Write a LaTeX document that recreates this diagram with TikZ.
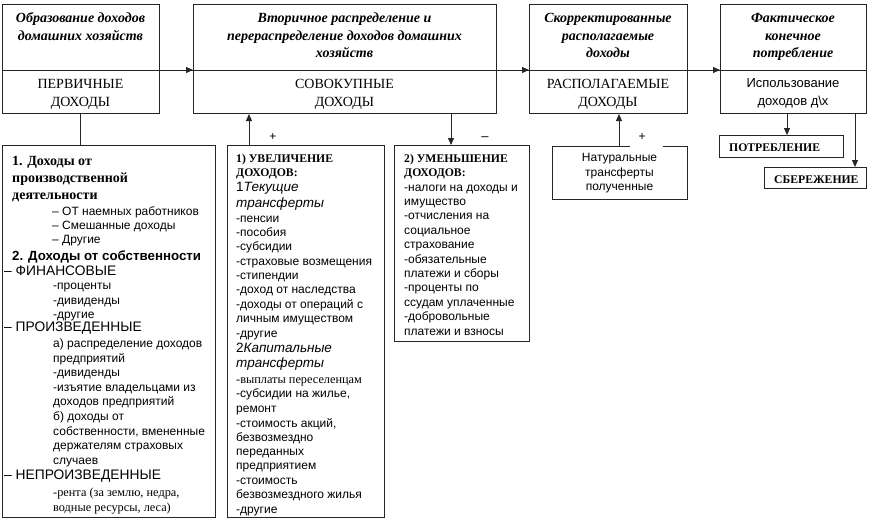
\documentclass[tikz,border=0pt]{standalone}
\usepackage{fontspec}
\setmainfont{Liberation Serif}
\setsansfont{Liberation Sans}
\usetikzlibrary{arrows.meta}
\newcommand\fsz[1]{\fontsize{#1}{#1}\selectfont}
\begin{document}
\begin{tikzpicture}[x=1pt,y=-1pt,
  box/.style={draw=black!85, line width=1pt, anchor=north west, inner sep=0pt},
  ln/.style={draw=black!85, line width=1pt},
  arr/.style={ln, -{Triangle[length=7pt,width=6pt]}},
  hd/.style={font=\fsz{14}\bfseries\itshape, anchor=base, inner sep=0pt},
  lo/.style={font=\fsz{14}, anchor=base, inner sep=0pt},
  lofour/.style={font=\sffamily\fsz{13}, anchor=base, inner sep=0pt},
  sbold/.style={font=\fsz{14}\bfseries, anchor=base west, inner sep=0pt},
  item/.style={font=\sffamily\fsz{12}, anchor=base west, inner sep=0pt},
  itemsm/.style={font=\sffamily\fsz{12}, anchor=base west, inner sep=0pt},
  capsans/.style={font=\sffamily\fsz{13.8}, anchor=base west, inner sep=0pt},
  boldsans/.style={font=\sffamily\bfseries\fsz{13.3}, anchor=base west, inner sep=0pt},
  itsans/.style={font=\sffamily\fsz{13.5}, anchor=base west, inner sep=0pt},
  serifitem/.style={font=\fsz{12.3}, anchor=base west, inner sep=0pt},
  boldcaps/.style={font=\fsz{11.7}\bfseries, anchor=base west, inner sep=0pt},
  centr/.style={font=\sffamily\fsz{12}, anchor=base, inner sep=0pt}
]
\useasboundingbox (0,0) rectangle (876,522);
% top boxes
\node[box, minimum width=157pt, minimum height=109pt] (b1) at (2,4) {};
\node[box, minimum width=303pt, minimum height=109pt] (b2) at (193,4) {};
\node[box, minimum width=158pt, minimum height=109pt] (b3) at (529,4) {};
\node[box, minimum width=146pt, minimum height=109pt] (b4) at (720,4) {};
% lower boxes
\node[box, minimum width=213pt, minimum height=372pt] (lbox) at (2,145) {};
\node[box, minimum width=157pt, minimum height=372pt] (mbox) at (227,145) {};
\node[box, minimum width=135pt, minimum height=196pt] (rbox) at (394,145) {};
\node[box, minimum width=135pt, minimum height=53pt] (nbox) at (552,146) {};
\node[box, minimum width=124pt, minimum height=22pt] (pbox) at (719,135) {};
\node[box, minimum width=102pt, minimum height=21pt] (sbox) at (764,167) {};

% divider line with arrows
\coordinate (dv) at (0,70);
\draw[ln] (b1.west |- dv) -- (b4.east |- dv);
\draw[arr] (b1.east |- dv) -- (b2.west |- dv);
\draw[arr] (b2.east |- dv) -- (b3.west |- dv);
\draw[arr] (b3.east |- dv) -- (b4.west |- dv);

% connectors
\path ([xshift=78pt]lbox.north west) coordinate (c1);
\draw[ln] (c1 |- b1.south) -- (c1);
\path ([xshift=22pt]mbox.north west) coordinate (c2);
\draw[arr] (c2) -- (c2 |- b2.south);
\path ([xshift=57pt]rbox.north west) coordinate (c3);
\draw[arr] (c3 |- b2.south) -- (c3);
\path ([xshift=67pt]nbox.north west) coordinate (c4);
\draw[arr] (c4) -- (c4 |- b3.south);
\path ([xshift=68pt]pbox.north west) coordinate (c5);
\draw[arr] (c5 |- b4.south) -- (c5);
\path ([xshift=91pt]sbox.north west) coordinate (c6);
\draw[arr] (c6 |- b4.south) -- (c6);

% signs
\node[font=\sffamily\fsz{12}, inner sep=0pt] (plusM) at (273,137) {+};
\node[font=\sffamily\fsz{13}, inner sep=0pt] (minusR) at (485,139) {–};
\node[font=\sffamily\fsz{12}, inner sep=0pt, fill=white, minimum width=33pt, minimum height=20pt] (plusN) at (646.5,137) {+\hspace*{9pt}};

% headers
\foreach \yy/\txt [count=\i] in {23/Образование доходов, 40/домашних хозяйств}
  \node[hd] (ha\i) at (80.5,\yy) {\txt};
\foreach \yy/\txt [count=\i] in {23/Вторичное распределение и, 40/перераспределение доходов домашних, 57/хозяйств}
  \node[hd] (hb\i) at (344.5,\yy) {\txt};
\foreach \yy/\txt [count=\i] in {23/Скорректированные, 40/располагаемые, 57/доходы}
  \node[hd] (hc\i) at (608,\yy) {\txt};
\foreach \yy/\txt [count=\i] in {23/Фактическое, 40/конечное, 57/потребление}
  \node[hd] (hd\i) at (793,\yy) {\txt};

% lower labels of top boxes
\node[lo] (la1) at (80.5,88) {ПЕРВИЧНЫЕ};
\node[lo] (la2) at (80.5,106) {ДОХОДЫ};
\node[lo] (lb1) at (344.5,88) {СОВОКУПНЫЕ};
\node[lo] (lb2) at (344.5,106) {ДОХОДЫ};
\node[lo] (lc1) at (608,88) {РАСПОЛАГАЕМЫЕ};
\node[lo] (lc2) at (608,106) {ДОХОДЫ};
\node[lofour] (ld1) at (793,87) {Использование};
\node[lofour] (ld2) at (793,105) {доходов д\textbackslash х};

% left box
\foreach \yy/\txt [count=\i] in {165/1. Доходы от, 182/производственной, 199/деятельности}
  \node[sbold] (pa\i) at (12,\yy) {\txt};
\foreach \yy/\txt [count=\i] in {215/– ОТ наемных работников, 229/– Смешанные доходы, 243/– Другие}
  \node[item] (pb\i) at (52,\yy) {\txt};
\node[boldsans] (pc1) at (12,260) {2. Доходы от собственности};
\node[capsans] (pd1) at (4,275) {– ФИНАНСОВЫЕ};
\foreach \yy/\txt [count=\i] in {289/-проценты, 304/-дивиденды, 318/-другие}
  \node[itemsm] (pe\i) at (53,\yy) {\txt};
\node[capsans] (pf1) at (4,331) {– ПРОИЗВЕДЕННЫЕ};
\foreach \yy/\txt [count=\i] in {347/а) распределение доходов, 362/предприятий, 376/-дивиденды, 391/-изъятие владельцами из, 405/доходов предприятий, 420/б) доходы от, 435/{собственности, вмененные}, 449/держателям страховых, 464/случаев}
  \node[item] (pg\i) at (53,\yy) {\txt};
\node[capsans] (ph1) at (4,479) {– НЕПРОИЗВЕДЕННЫЕ};
\foreach \yy/\txt [count=\i] in {496/{-рента (за землю, недра,}, 511/{водные ресурсы, леса)}}
  \node[serifitem] (pi\i) at (53,\yy) {\txt};

% middle box
\foreach \yy/\txt [count=\i] in {162.5/1) УВЕЛИЧЕНИЕ, 176.5/ДОХОДОВ:}
  \node[boldcaps] (ma\i) at (236,\yy) {\txt};
\node[itsans] (mb1) at (236,191) {1\textit{Текущие}};
\node[itsans] (mb2) at (236,207) {\textit{трансферты}};
\foreach \yy/\txt [count=\i] in {222/-пенсии, 236/-пособия, 250/-субсидии, 265/-страховые возмещения, 279/-стипендии, 293/-доход от наследства, 308/-доходы от операций с, 322/личным имуществом, 337/-другие}
  \node[item] (mc\i) at (236,\yy) {\txt};
\node[itsans] (md1) at (236,352) {2\textit{Капитальные}};
\node[itsans] (md2) at (236,367) {\textit{трансферты}};
\node[serifitem] (me1) at (236,383) {-выплаты переселенцам};
\foreach \yy/\txt [count=\i] in {397/{-субсидии на жилье,}, 412/ремонт, 427/{-стоимость акций,}, 441/безвозмездно, 455/переданных, 469/предприятием, 484/-стоимость, 498/безвозмездного жилья, 513/-другие}
  \node[item] (mf\i) at (236,\yy) {\txt};

% right box
\foreach \yy/\txt [count=\i] in {162.5/2) УМЕНЬШЕНИЕ, 176.5/ДОХОДОВ:}
  \node[boldcaps] (ra\i) at (404,\yy) {\txt};
\foreach \txt [count=\i] in {-налоги на доходы и, имущество, -отчисления на, социальное, страхование, -обязательные, платежи и сборы, -проценты по, ссудам уплаченные, -добровольные, платежи и взносы}
  \node[item] (rb\i) at (404,176.6+14.4*\i) {\txt};

% natural transfers
\foreach \yy/\txt [count=\i] in {161/Натуральные, 176/трансферты, 190/полученные}
  \node[centr] (na\i) at (619.5,\yy) {\txt};

% consumption / saving
\node[boldcaps] (pt1) at (729,151) {ПОТРЕБЛЕНИЕ};
\node[boldcaps] (st1) at (774,183) {СБЕРЕЖЕНИЕ};
\end{tikzpicture}
\end{document}
